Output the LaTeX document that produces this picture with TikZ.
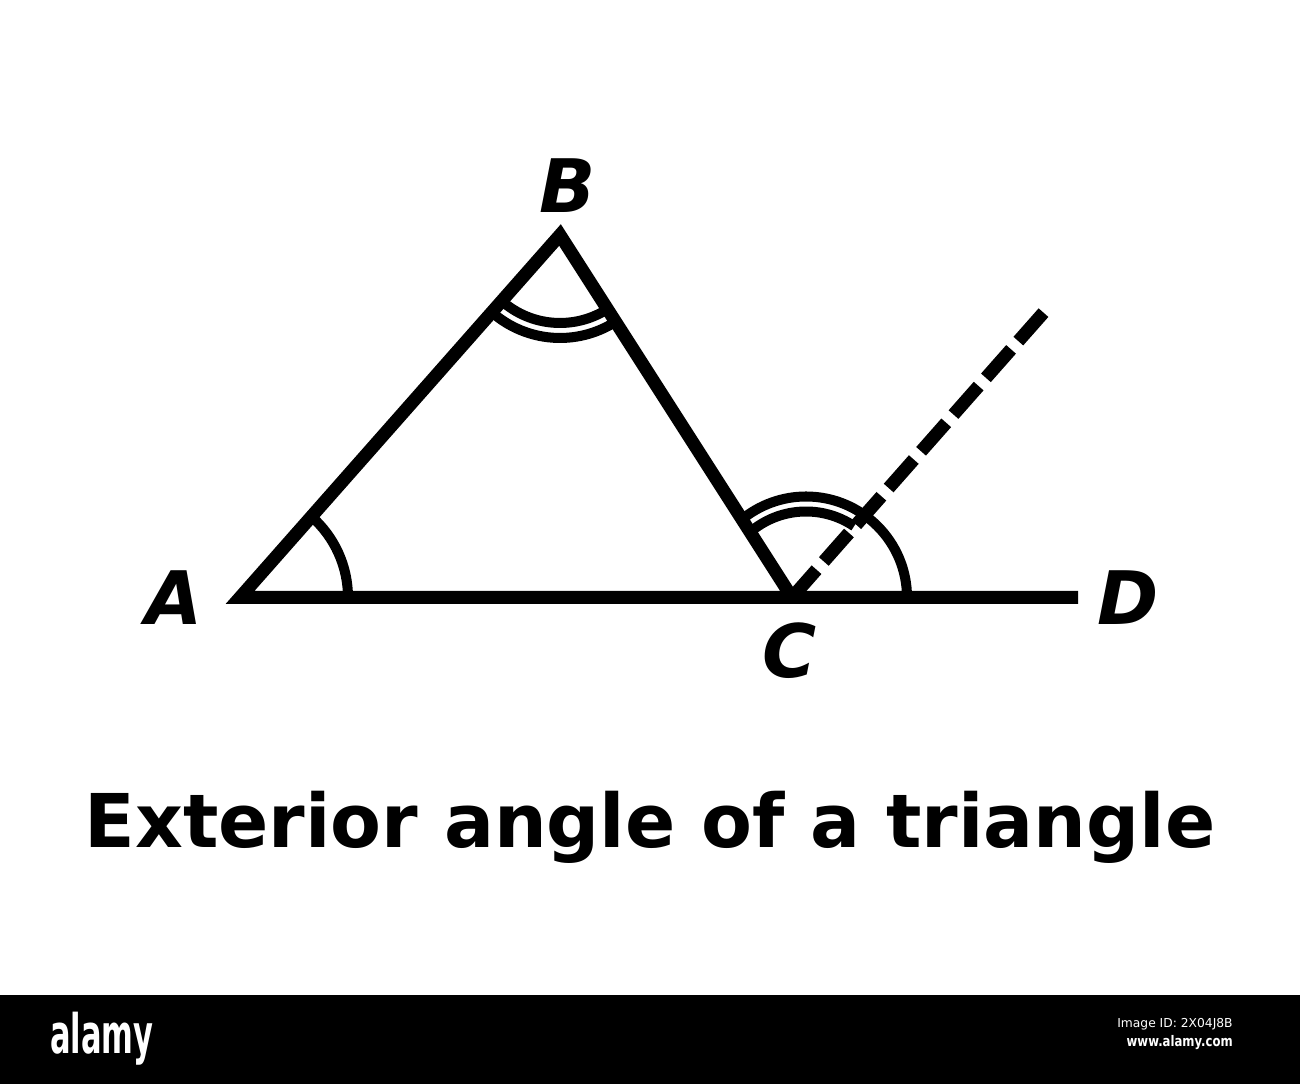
\documentclass[tikz,border=0pt]{standalone}
\usepackage{fontspec}
\setmainfont{DejaVu Sans}
\usetikzlibrary{positioning,calc}

\begin{document}
\begin{tikzpicture}[x=0.02cm, y=0.02cm, every node/.style={inner sep=0pt, font=\fontsize{42}{48}\selectfont\bfseries\itshape},
        side/.style={line width=7.4pt, line join=miter}, anglearc/.style={line width=5.7pt},
        extension/.style={line width=7.4pt, dash pattern=on 0.76cm off 0.22cm}]
    \useasboundingbox (0,0) rectangle (1300,1084);
    \coordinate (A) at (240,486.5);
    \coordinate (B) at (560,849);
    \coordinate (C) at (792,486.5);
    \coordinate (D) at (1078,486.5);
    \coordinate (E) at ($(C)+(48.56:380)$);
    \coordinate (Cc) at ($(C)+(14,0)$);

    \draw[anglearc] (A) ++(0:108) arc[start angle=0, end angle=48.56, radius=108];
    \draw[anglearc] (B) ++(228.56:103) arc[start angle=228.56, end angle=302.6, radius=103];
    \draw[anglearc] (B) ++(228.56:88) arc[start angle=228.56, end angle=302.6, radius=88];
    \draw[anglearc] (Cc) ++(0:101) arc[start angle=0, end angle=130, radius=101];
    \draw[anglearc] (Cc) ++(56:86) arc[start angle=56, end angle=131, radius=86];

    \draw[side] (D) -- (A) -- (B) -- (C);
    \draw[extension] (E) -- (C);

    \node (lA) [left=0.75cm of A] {A};
    \node (lB) [above=0.45cm of B, xshift=0.15cm] {B};
    \node (lC) [below=0.5cm of C, xshift=-0.04cm] {C};
    \node (lD) [right=0.38cm of D] {D};
    \node (title) [anchor=base, font=\fontsize{42.2}{48}\selectfont\bfseries] at (650,236) {Exterior angle of a triangle};

    \fill (0,0) rectangle (1300,89);
    \node (logo) [anchor=base west, text=white, font=\fontsize{31}{34}\selectfont\bfseries] at (50,31) {\scalebox{0.56}[1]{alamy}};
    \node (imgid) [anchor=base east, text=white, font=\fontsize{7}{8}\selectfont] at (1233,56) {Image ID: 2X04J8B};
    \node (site) [anchor=base east, text=white, font=\fontsize{8.3}{9}\selectfont\bfseries] at (1233,37) {\scalebox{0.8}[1]{www.alamy.com}};
\end{tikzpicture}
\end{document}
